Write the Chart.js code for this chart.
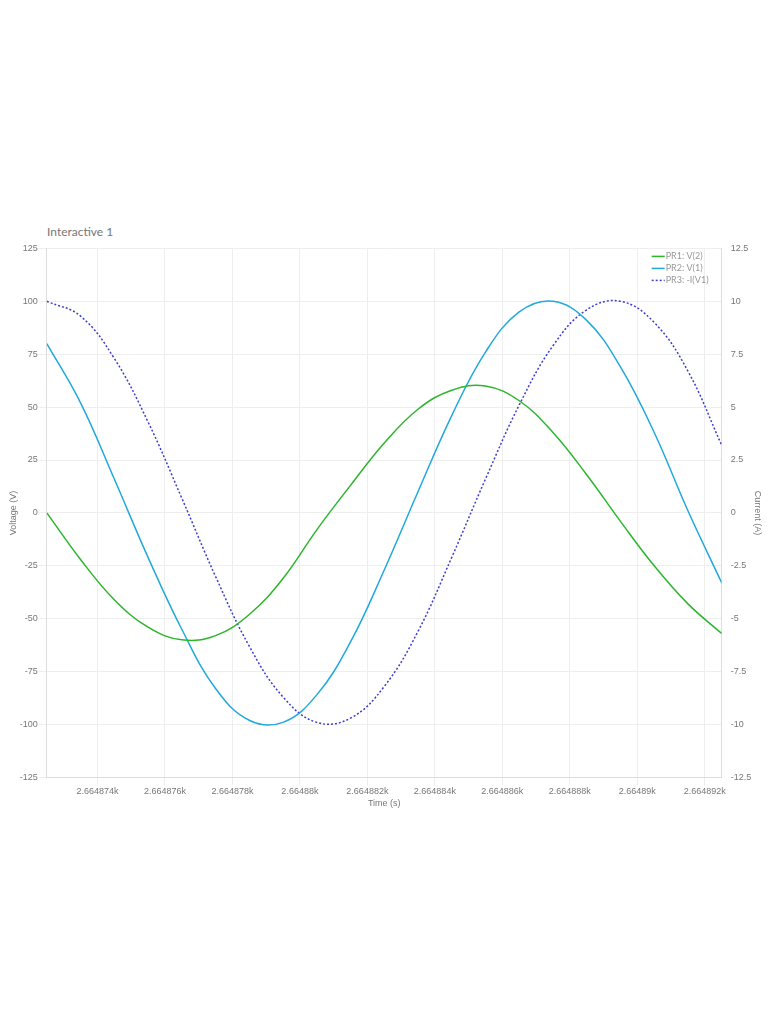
<!DOCTYPE html>
<html><head><meta charset="utf-8">
<script src="https://cdn.jsdelivr.net/npm/chart.js@4"></script>
<style>
body{margin:0;background:#fff;font-family:Lato,sans-serif}
#title{position:absolute;left:47px;top:224px;font-size:12px;color:#777}
#wrap{position:absolute;left:-2px;top:242px;width:772px;height:567px}
</style></head><body>
<div id="title">Interactive 1</div>
<div id="wrap"><canvas id="c"></canvas></div>
<script>
const times = [2664.8725,2664.8735,2664.8745,2664.8755,2664.8765,2664.8775,2664.8785,2664.8795,2664.8805,2664.8815,2664.8825,2664.8835,2664.8845,2664.8855,2664.8865,2664.8875,2664.8885,2664.8895,2664.8905,2664.8915,2664.8925];
const v2 = [0,-22,-41,-54,-60,-58,-48,-31,-8,13,33,49,58,60,53,38,18,-4,-25,-43,-57];
const v1 = [80,52,16,-21,-55,-83,-98,-99,-86,-61,-27,10,46,76,95,100,91,69,38,1,-33];
const i1 = [10,9.3,7.3,4.3,0.7,-3.0,-6.3,-8.7,-9.9,-9.7,-8.2,-5.6,-2.1,1.6,5.1,7.9,9.6,10,9,6.7,3.2];
const timeTicks = [2664.874,2664.876,2664.878,2664.88,2664.882,2664.884,2664.886,2664.888,2664.89,2664.892];
const labels = ['PR1: V(2)','PR2: V(1)','PR3: -I(V1)'];

const pts = arr => arr.map((y, k) => ({x: times[k], y: y}));

const legendBox = {
  id: 'legendBox',
  afterDraw(chart) {
    const ctx = chart.ctx, a = chart.chartArea;
    ctx.save();
    ctx.font = '9px Lato';
    ctx.textBaseline = 'middle';
    chart.data.datasets.forEach((ds, k) => {
      const y = a.top + 8 + k * 12, x = a.right - 56;
      ctx.strokeStyle = ds.borderColor;
      ctx.lineWidth = 1.5;
      ctx.setLineDash(ds.borderDash || []);
      ctx.beginPath(); ctx.moveTo(x - 14, y); ctx.lineTo(x - 1, y); ctx.stroke();
      ctx.fillStyle = '#999';
      ctx.fillText(ds.label, x, y);
    });
    ctx.restore();
  }
};

new Chart(document.getElementById('c'), {
  type: 'line',
  data: {
    datasets: [
      {label: labels[0], data: pts(v2), borderColor: '#2db52d', yAxisID: 'y', borderWidth: 1.5},
      {label: labels[1], data: pts(v1), borderColor: '#21a9dc', yAxisID: 'y', borderWidth: 1.5},
      {label: labels[2], data: pts(i1), borderColor: '#3d3dd0', yAxisID: 'y2', borderWidth: 1.5, borderDash: [2, 2]}
    ]
  },
  options: {
    animation: false,
    responsive: true,
    maintainAspectRatio: false,
    elements: {point: {radius: 0}, line: {tension: 0.4}},
    layout: {padding: {left: 10, right: 7}},
    plugins: {legend: {display: false}, tooltip: {enabled: false}},
    scales: {
      x: {
        type: 'linear', min: times[0], max: times[times.length - 1],
        afterBuildTicks: s => { s.ticks = timeTicks.map(v => ({value: v})); },
        ticks: {font: {size: 9}, color: '#777', maxRotation: 0, padding: 1,
          callback: v => parseFloat((v / 1000).toFixed(6)) + 'k'},
        grid: {color: '#eee'},
        border: {color: '#ddd'},
        title: {display: true, text: 'Time (s)', font: {size: 9}, color: '#777', padding: 0}
      },
      y: {
        min: -125, max: 125,
        ticks: {stepSize: 25, font: {size: 9}, color: '#777', padding: 1},
        grid: {color: '#eee'},
        border: {color: '#ddd'},
        title: {display: true, text: 'Voltage (V)', font: {size: 9}, color: '#777', padding: 0}
      },
      y2: {
        position: 'right', min: -12.5, max: 12.5,
        ticks: {stepSize: 2.5, font: {size: 9}, color: '#777', padding: 1},
        grid: {display: false},
        border: {color: '#ddd'},
        title: {display: true, text: 'Current (A)', font: {size: 9}, color: '#777', padding: 0}
      }
    }
  },
  plugins: [legendBox]
});
</script>
</body></html>
